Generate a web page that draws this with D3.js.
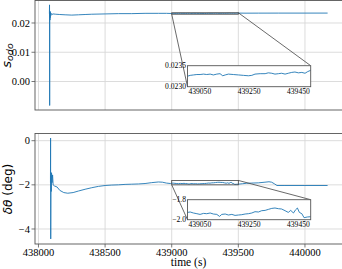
<!DOCTYPE html>
<html>
<head>
<meta charset="utf-8">
<script src="https://cdn.jsdelivr.net/npm/d3@7"></script>
<style>
body { margin: 0; background: #fff; }
svg { display: block; }
.serif { font-family: "Liberation Serif", "Times New Roman", serif; }
.sans { font-family: "DejaVu Sans", sans-serif; }
</style>
</head>
<body>
<script>
// time stamps (s) and values
var odoT = [438082, 438083, 438084, 438085, 438086, 438087, 438088, 438090, 438092, 438095, 438100, 438110, 438130, 438160, 438200, 438250, 438300, 438350, 438400, 438500, 438600, 438700, 438800, 438900, 438960,
  439000, 439011, 439024, 439038, 439051, 439065, 439078, 439092, 439105, 439119, 439132, 439143, 439153, 439166, 439186, 439207, 439227, 439247, 439261, 439274, 439295, 439315, 439328, 439342, 439355, 439369, 439382, 439396, 439409, 439423, 439436, 439450, 439464, 439477, 439488, 439500,
  439550, 439650, 439800, 440000, 440170]
var odoV = [0.0232, 0.0262, -0.0082, 0.0238, 0.0210, 0.0240, 0.0218, 0.0236, 0.0225, 0.0233, 0.0229, 0.0231, 0.0230, 0.0229, 0.0228, 0.0227, 0.0228, 0.0229, 0.0230, 0.0231, 0.0232, 0.0232, 0.0233, 0.0233, 0.0233,
  0.02325, 0.02327, 0.02328, 0.02329, 0.02329, 0.02330, 0.02329, 0.02330, 0.02328, 0.02330, 0.02331, 0.02326, 0.02328, 0.02330, 0.02329, 0.02328, 0.02327, 0.02326, 0.02327, 0.02330, 0.02331, 0.02331, 0.02333, 0.02332, 0.02330, 0.02331, 0.02332, 0.02330, 0.02332, 0.02334, 0.02335, 0.02333, 0.02334, 0.02332, 0.02336, 0.02339,
  0.02336, 0.02337, 0.02338, 0.02338, 0.02339]

var thT = [438090, 438091, 438092, 438094, 438096, 438098, 438102, 438106, 438110, 438120, 438140, 438160, 438190, 438220, 438260, 438300, 438350, 438400, 438450, 438500, 438550, 438600, 438650, 438700, 438750, 438800, 438850, 438900, 438930, 438960, 438990,
  439000, 439011, 439024, 439038, 439051, 439065, 439078, 439092, 439105, 439119, 439130, 439139, 439153, 439166, 439180, 439193, 439207, 439220, 439234, 439247, 439261, 439274, 439288, 439301, 439315, 439328, 439342, 439355, 439369, 439382, 439396, 439409, 439419, 439430, 439439, 439446, 439454, 439464, 439473, 439486, 439500,
  439530, 439560, 439600, 439650, 439700, 439730, 439750, 439770, 439790, 439850, 440000, 440170]
var thV = [-1.9, 0.12, -4.45, -1.6, -2.3, -1.45, -1.9, -1.55, -2.0, -2.05, -2.1, -2.25, -2.35, -2.38, -2.35, -2.28, -2.2, -2.13, -2.07, -2.03, -2.01, -2.0, -1.98, -1.97, -1.96, -1.94, -1.9, -1.87, -1.88, -1.92, -1.94,
  -1.927, -1.923, -1.933, -1.940, -1.947, -1.937, -1.940, -1.933, -1.943, -1.947, -1.967, -1.947, -1.943, -1.953, -1.947, -1.957, -1.953, -1.950, -1.943, -1.940, -1.933, -1.920, -1.923, -1.910, -1.907, -1.897, -1.887, -1.883, -1.890, -1.893, -1.910, -1.927, -1.907, -1.933, -1.900, -1.883, -1.927, -1.940, -1.980, -1.973, -1.970,
  -1.95, -1.93, -1.92, -1.91, -1.88, -1.86, -1.88, -1.95, -2.03, -2.03, -2.03, -2.03]

var xTicks = [438000, 438500, 439000, 439500, 440000]
var odoTicks = [0.00, 0.01, 0.02]
var thTicks = [0, -2, -4]
var zoomT = [439000, 439500]
var zoomTicks = [439050, 439250, 439450]
var odoZoom = [0.0230, 0.0235]
var thZoom = [-2.0, -1.8]

var W = 342, H = 269
var blue = "#1f77b4"
var minus = function(s) { return s.replace("-", "\u2212") }

var svg = d3.select("body").append("svg")
  .attr("width", W).attr("height", H)

var x = d3.scaleLinear().domain([437974, 440278]).range([35, 342])

var drawpanel = function(T, V, yDomain, yRange, ticks, fmt, zoomY, inset, id)
{
  var y = d3.scaleLinear().domain(yDomain).range(yRange)
  var g = svg.append("g")
  var top = yRange[1], bot = yRange[0]

  // grid
  g.selectAll(".gx").data(xTicks).enter().append("line")
    .attr("x1", d => x(d)).attr("x2", d => x(d))
    .attr("y1", top).attr("y2", bot)
    .attr("stroke", "#d8d8d8").attr("stroke-width", 0.9)
  g.selectAll(".gy").data(ticks).enter().append("line")
    .attr("x1", 35).attr("x2", W)
    .attr("y1", d => y(d)).attr("y2", d => y(d))
    .attr("stroke", "#d8d8d8").attr("stroke-width", 0.9)

  var line = d3.line().x((d, i) => x(T[i])).y(d => y(d))
  g.append("path").datum(V).attr("d", line)
    .attr("fill", "none").attr("stroke", blue).attr("stroke-width", 0.9)

  // zoom rectangle and connectors
  var rx0 = x(zoomT[0]), rx1 = x(zoomT[1]), ry0 = y(zoomY[0]), ry1 = y(zoomY[1])
  g.append("rect").attr("x", rx0).attr("y", ry1).attr("width", rx1 - rx0).attr("height", ry0 - ry1)
    .attr("fill", "none").attr("stroke", "#444").attr("stroke-width", 0.8)
  g.append("line").attr("x1", rx0).attr("y1", ry0).attr("x2", inset.x0).attr("y2", inset.y1)
    .attr("stroke", "#444").attr("stroke-width", 0.8)
  g.append("line").attr("x1", rx1).attr("y1", ry1).attr("x2", inset.x1).attr("y2", inset.y0)
    .attr("stroke", "#444").attr("stroke-width", 0.8)

  // ticks
  g.selectAll(".ty").data(ticks).enter().append("line")
    .attr("x1", 31.5).attr("x2", 35).attr("y1", d => y(d)).attr("y2", d => y(d))
    .attr("stroke", "#555").attr("stroke-width", 0.8)
  g.selectAll(".ly").data(ticks).enter().append("text")
    .attr("class", "serif")
    .attr("x", 30).attr("y", d => y(d) + 3.6)
    .attr("text-anchor", "end")
    .attr("font-size", 10.5)
    .text(d => minus(fmt(d)))

  g.append("rect").attr("x", 35).attr("y", top).attr("width", W - 35 + 2).attr("height", bot - top)
    .attr("fill", "none").attr("stroke", "#555").attr("stroke-width", 0.9)

  // inset
  var ix = d3.scaleLinear().domain(zoomT).range([inset.x0, inset.x1])
  var iy = d3.scaleLinear().domain(zoomY).range([inset.y1, inset.y0])
  var ig = svg.append("g")
  ig.append("rect").attr("x", inset.x0).attr("y", inset.y0)
    .attr("width", inset.x1 - inset.x0).attr("height", inset.y1 - inset.y0).attr("fill", "#fff")
  ig.append("clipPath").attr("id", id).append("rect")
    .attr("x", inset.x0).attr("y", inset.y0)
    .attr("width", inset.x1 - inset.x0).attr("height", inset.y1 - inset.y0)
  var iline = d3.line().x((d, i) => ix(T[i])).y(d => iy(d))
  ig.append("path").datum(V).attr("d", iline).attr("clip-path", "url(#" + id + ")")
    .attr("fill", "none").attr("stroke", blue).attr("stroke-width", 0.9)
  ig.append("rect").attr("x", inset.x0).attr("y", inset.y0)
    .attr("width", inset.x1 - inset.x0).attr("height", inset.y1 - inset.y0)
    .attr("fill", "none").attr("stroke", "#555").attr("stroke-width", 0.9)
  ig.selectAll(".ix").data(zoomTicks).enter().append("text")
    .attr("class", "serif")
    .attr("x", d => ix(d)).attr("y", inset.y1 + 7.5)
    .attr("text-anchor", "middle")
    .attr("font-size", 7.6)
    .text(d => d)
  ig.selectAll(".iy").data(zoomY).enter().append("text")
    .attr("class", "serif")
    .attr("x", inset.x0 - 1.5).attr("y", d => iy(d) + 2.6)
    .attr("text-anchor", "end")
    .attr("font-size", 7.6)
    .text((d, i) => minus(inset.fmt(d)))

  return y
}

drawpanel(odoT, odoV, [-0.00974, 0.02769], [110, 0.5], odoTicks, d3.format(".2f"), odoZoom,
  {x0: 187.5, x1: 310.7, y0: 65.7, y1: 86.7, fmt: d3.format(".4f")}, "c1")
drawpanel(thT, thV, [-4.68, 0.326], [244, 133.5], thTicks, d3.format("d"), thZoom,
  {x0: 187.5, x1: 310.7, y0: 199.7, y1: 219.7, fmt: d3.format(".1f")}, "c2")

// x ticks on the lower panel
svg.selectAll(".tx").data(xTicks).enter().append("line")
  .attr("x1", d => x(d)).attr("x2", d => x(d)).attr("y1", 244).attr("y2", 247.5)
  .attr("stroke", "#555").attr("stroke-width", 0.8)
svg.selectAll(".lx").data(xTicks).enter().append("text")
  .attr("class", "serif")
  .attr("x", d => x(d)).attr("y", 255.5)
  .attr("text-anchor", "middle")
  .attr("font-size", 10.5)
  .text(d => d)

svg.append("text").attr("x", 188.5).attr("y", 266)
  .attr("class", "serif")
  .attr("text-anchor", "middle")
  .attr("font-size", 11.5)
  .text("time (s)")

// y labels
var yl1 = svg.append("text").attr("transform", "translate(11,55.5) rotate(-90)")
  .attr("class", "sans")
  .attr("text-anchor", "middle")
  .attr("font-style", "italic")
yl1.append("tspan").attr("font-size", 13).text("s")
yl1.append("tspan").attr("font-size", 9.5).attr("dy", 2).text("odo")

var yl2 = svg.append("text").attr("transform", "translate(12,189) rotate(-90)")
  .attr("class", "sans")
  .attr("text-anchor", "middle")
  .attr("font-size", 12)
yl2.append("tspan").attr("font-style", "italic").text("\u03b4\u03b8")
yl2.append("tspan").text(" (deg)")
</script>
</body>
</html>
